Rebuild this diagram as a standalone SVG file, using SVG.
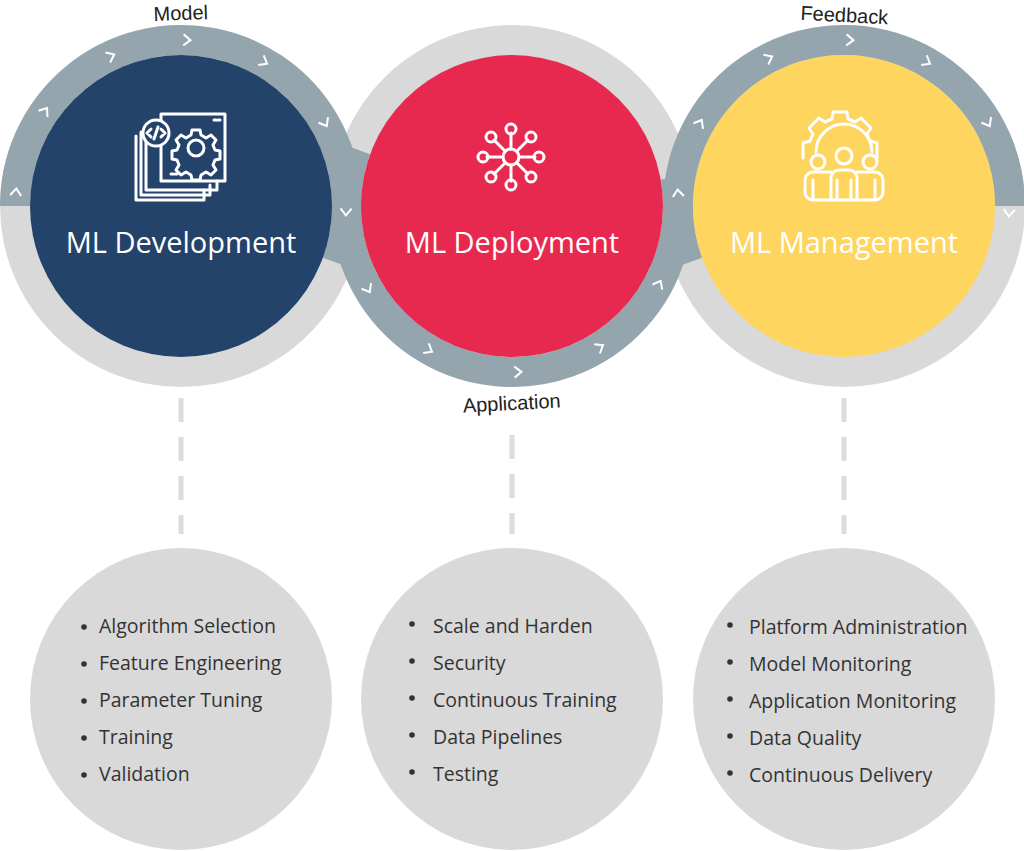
<svg xmlns="http://www.w3.org/2000/svg" width="1024" height="851" viewBox="0 0 1024 851">
<style>
.disc{fill:#d9d9d9}
.ring{fill:none;stroke:#94a5ae;stroke-width:30}
.chev{fill:none;stroke:#fff;stroke-width:2}
.title{font-family:"Open Sans","Liberation Sans",sans-serif;font-size:29px;fill:#fff;text-anchor:middle}
.lbl{font-family:"Liberation Sans",sans-serif;font-size:20px;fill:#222;text-anchor:middle}
.item{font-family:"Open Sans","Liberation Sans",sans-serif;font-size:19.5px;fill:#333}
.ic{fill:none;stroke:#fff;stroke-width:3;stroke-linejoin:round;stroke-linecap:round}
.dash{stroke:#dcdcdc;stroke-width:5;stroke-dasharray:24 15}
</style>
<defs><path id="ch" class="chev" d="M-3.5,-5.5 L3.5,0 L-3.5,5.5"/></defs>
<circle class="disc" cx="181" cy="206" r="181"/>
<circle class="disc" cx="512" cy="206" r="181"/>
<circle class="disc" cx="844" cy="206" r="181"/>
<path class="ring" d="M15,206 A166,166 0 1 1 337,262.8"/>
<path class="ring" d="M356,149.2 A166,166 0 1 0 675.5,177.2"/>
<path class="ring" d="M688,262.8 A166,166 0 1 1 1010,206"/>
<g id="chevrons">
<use href="#ch" transform="translate(16,192) rotate(275)"/>
<use href="#ch" transform="translate(45,111) rotate(305)"/>
<use href="#ch" transform="translate(111,56) rotate(335)"/>
<use href="#ch" transform="translate(187,40) rotate(2)"/>
<use href="#ch" transform="translate(264,62) rotate(30)"/>
<use href="#ch" transform="translate(325,123) rotate(60)"/>
<use href="#ch" transform="translate(346,212) rotate(92)"/>
<use href="#ch" transform="translate(368,289) rotate(60)"/>
<use href="#ch" transform="translate(429,350) rotate(30)"/>
<use href="#ch" transform="translate(518,372) rotate(-2)"/>
<use href="#ch" transform="translate(600,347) rotate(-32)"/>
<use href="#ch" transform="translate(659,284) rotate(-62)"/>
<use href="#ch" transform="translate(678,193) rotate(-95)"/>
<use href="#ch" transform="translate(700,123) rotate(300)"/>
<use href="#ch" transform="translate(769,58) rotate(333)"/>
<use href="#ch" transform="translate(850,40) rotate(2)"/>
<use href="#ch" transform="translate(927,62) rotate(30)"/>
<use href="#ch" transform="translate(988,123) rotate(60)"/>
<use href="#ch" transform="translate(1009,213) rotate(95)"/>
</g>
<text class="lbl" transform="translate(181,20) rotate(-2)">Model</text>
<text class="lbl" transform="translate(512,410) rotate(-3)">Application</text>
<text class="lbl" transform="translate(844,22) rotate(3)">Feedback</text>
<g id="dev">
<circle cx="181" cy="206" r="151" fill="#24436a"/>
<g class="ic" stroke-width="2.5">
<path d="M136,136 V200 H204 V190"/>
<path d="M141,132 V195 H210 V185"/>
<path d="M146,128 V190 H217 V181"/>
<rect x="161" y="114" width="64" height="67"/>
<circle cx="156" cy="133" r="13" fill="#24436a"/>
<path d="M151,129 l-4,4 4,4 M161,129 l4,4 -4,4 M158,127 l-4,12"/>
<circle cx="196" cy="148" r="8"/>
<path d="M192,130 h8 l1,5 5,3 5,-3 5,5 -3,5 2,5 5,1 v8 l-5,1 -2,5 3,5 -5,5 -5,-3 -5,3 -1,5 h-8 l-1,-5 -5,-3 -5,3 -5,-5 3,-5 -2,-5 -5,-1 v-8 l5,-1 2,-5 -3,-5 5,-5 5,3 5,-3 z"/>
<path d="M171,174 h2 M175,174 h2 M214,120 h2 M218,120 h2"/>
</g>
<text class="title" x="181" y="253">ML Development</text>
</g>
<g id="dep">
<circle cx="512" cy="206" r="151" fill="#e8294f"/>
<g class="ic" stroke-width="2.5">
<circle cx="511" cy="157" r="8"/>
<path d="M511,149 V133 M511,165 V181 M503,157 H487 M519,157 H535 M505,151 L494,140 M517,151 L528,140 M505,163 L494,174 M517,163 L528,174"/>
<circle cx="511" cy="129" r="5"/><circle cx="511" cy="185" r="5"/>
<circle cx="483" cy="157" r="5"/><circle cx="539" cy="157" r="5"/>
<circle cx="491" cy="137" r="5"/><circle cx="531" cy="137" r="5"/>
<circle cx="491" cy="177" r="5"/><circle cx="531" cy="177" r="5"/>
</g>
<text class="title" x="512" y="253">ML Deployment</text>
</g>
<g id="mgmt">
<circle cx="844" cy="206" r="151" fill="#fed55e"/>
<g class="ic" stroke-width="2.5">
<path d="M803,158 v-15 l7,-2 3,-7 -4,-6 10,-10 6,4 7,-3 1,-7 h14 l1,7 7,3 6,-4 10,10 -4,6 3,7 7,2 v15"/>
<path d="M816,152 a28,28 0 0 1 56,0"/>
<circle cx="844" cy="156" r="8"/>
<circle cx="818" cy="162" r="7"/>
<circle cx="870" cy="162" r="7"/>
<path d="M831,200 v-22 a8,8 0 0 1 8,-8 h10 a8,8 0 0 1 8,8 v22 z M837,200 v-20 M851,200 v-20"/>
<path d="M831,172 h-18 a8,8 0 0 0 -8,8 v12 a8,8 0 0 0 8,8 h18 M813,200 v-20"/>
<path d="M857,172 h18 a8,8 0 0 1 8,8 v12 a8,8 0 0 1 -8,8 h-18 M875,200 v-20"/>
</g>
<text class="title" x="844" y="253">ML Management</text>
</g>
<g id="connectors">
<line class="dash" x1="181" y1="398" x2="181" y2="534"/>
<line class="dash" x1="512" y1="435" x2="512" y2="534"/>
<line class="dash" x1="844" y1="398" x2="844" y2="534"/>
</g>
<g id="list-dev">
<circle class="disc" cx="181" cy="699" r="151"/>
<g class="item"><circle cx="84" cy="627" r="2.8" fill="#333"/><text x="99" y="633">Algorithm Selection</text>
<circle cx="84" cy="664" r="2.8" fill="#333"/><text x="99" y="670">Feature Engineering</text>
<circle cx="84" cy="701" r="2.8" fill="#333"/><text x="99" y="707">Parameter Tuning</text>
<circle cx="84" cy="738" r="2.8" fill="#333"/><text x="99" y="744">Training</text>
<circle cx="84" cy="775" r="2.8" fill="#333"/><text x="99" y="781">Validation</text></g>
</g>
<g id="list-dep">
<circle class="disc" cx="512" cy="699" r="151"/>
<g class="item"><circle cx="412" cy="624" r="2.8" fill="#333"/><text x="433" y="633">Scale and Harden</text>
<circle cx="412" cy="661" r="2.8" fill="#333"/><text x="433" y="670">Security</text>
<circle cx="412" cy="698" r="2.8" fill="#333"/><text x="433" y="707">Continuous Training</text>
<circle cx="412" cy="735" r="2.8" fill="#333"/><text x="433" y="744">Data Pipelines</text>
<circle cx="412" cy="772" r="2.8" fill="#333"/><text x="433" y="781">Testing</text></g>
</g>
<g id="list-mgmt">
<circle class="disc" cx="844" cy="699" r="151"/>
<g class="item"><circle cx="730" cy="625" r="2.8" fill="#333"/><text x="749" y="634">Platform Administration</text>
<circle cx="730" cy="662" r="2.8" fill="#333"/><text x="749" y="671">Model Monitoring</text>
<circle cx="730" cy="699" r="2.8" fill="#333"/><text x="749" y="708">Application Monitoring</text>
<circle cx="730" cy="736" r="2.8" fill="#333"/><text x="749" y="745">Data Quality</text>
<circle cx="730" cy="773" r="2.8" fill="#333"/><text x="749" y="782">Continuous Delivery</text></g>
</g>
</svg>
